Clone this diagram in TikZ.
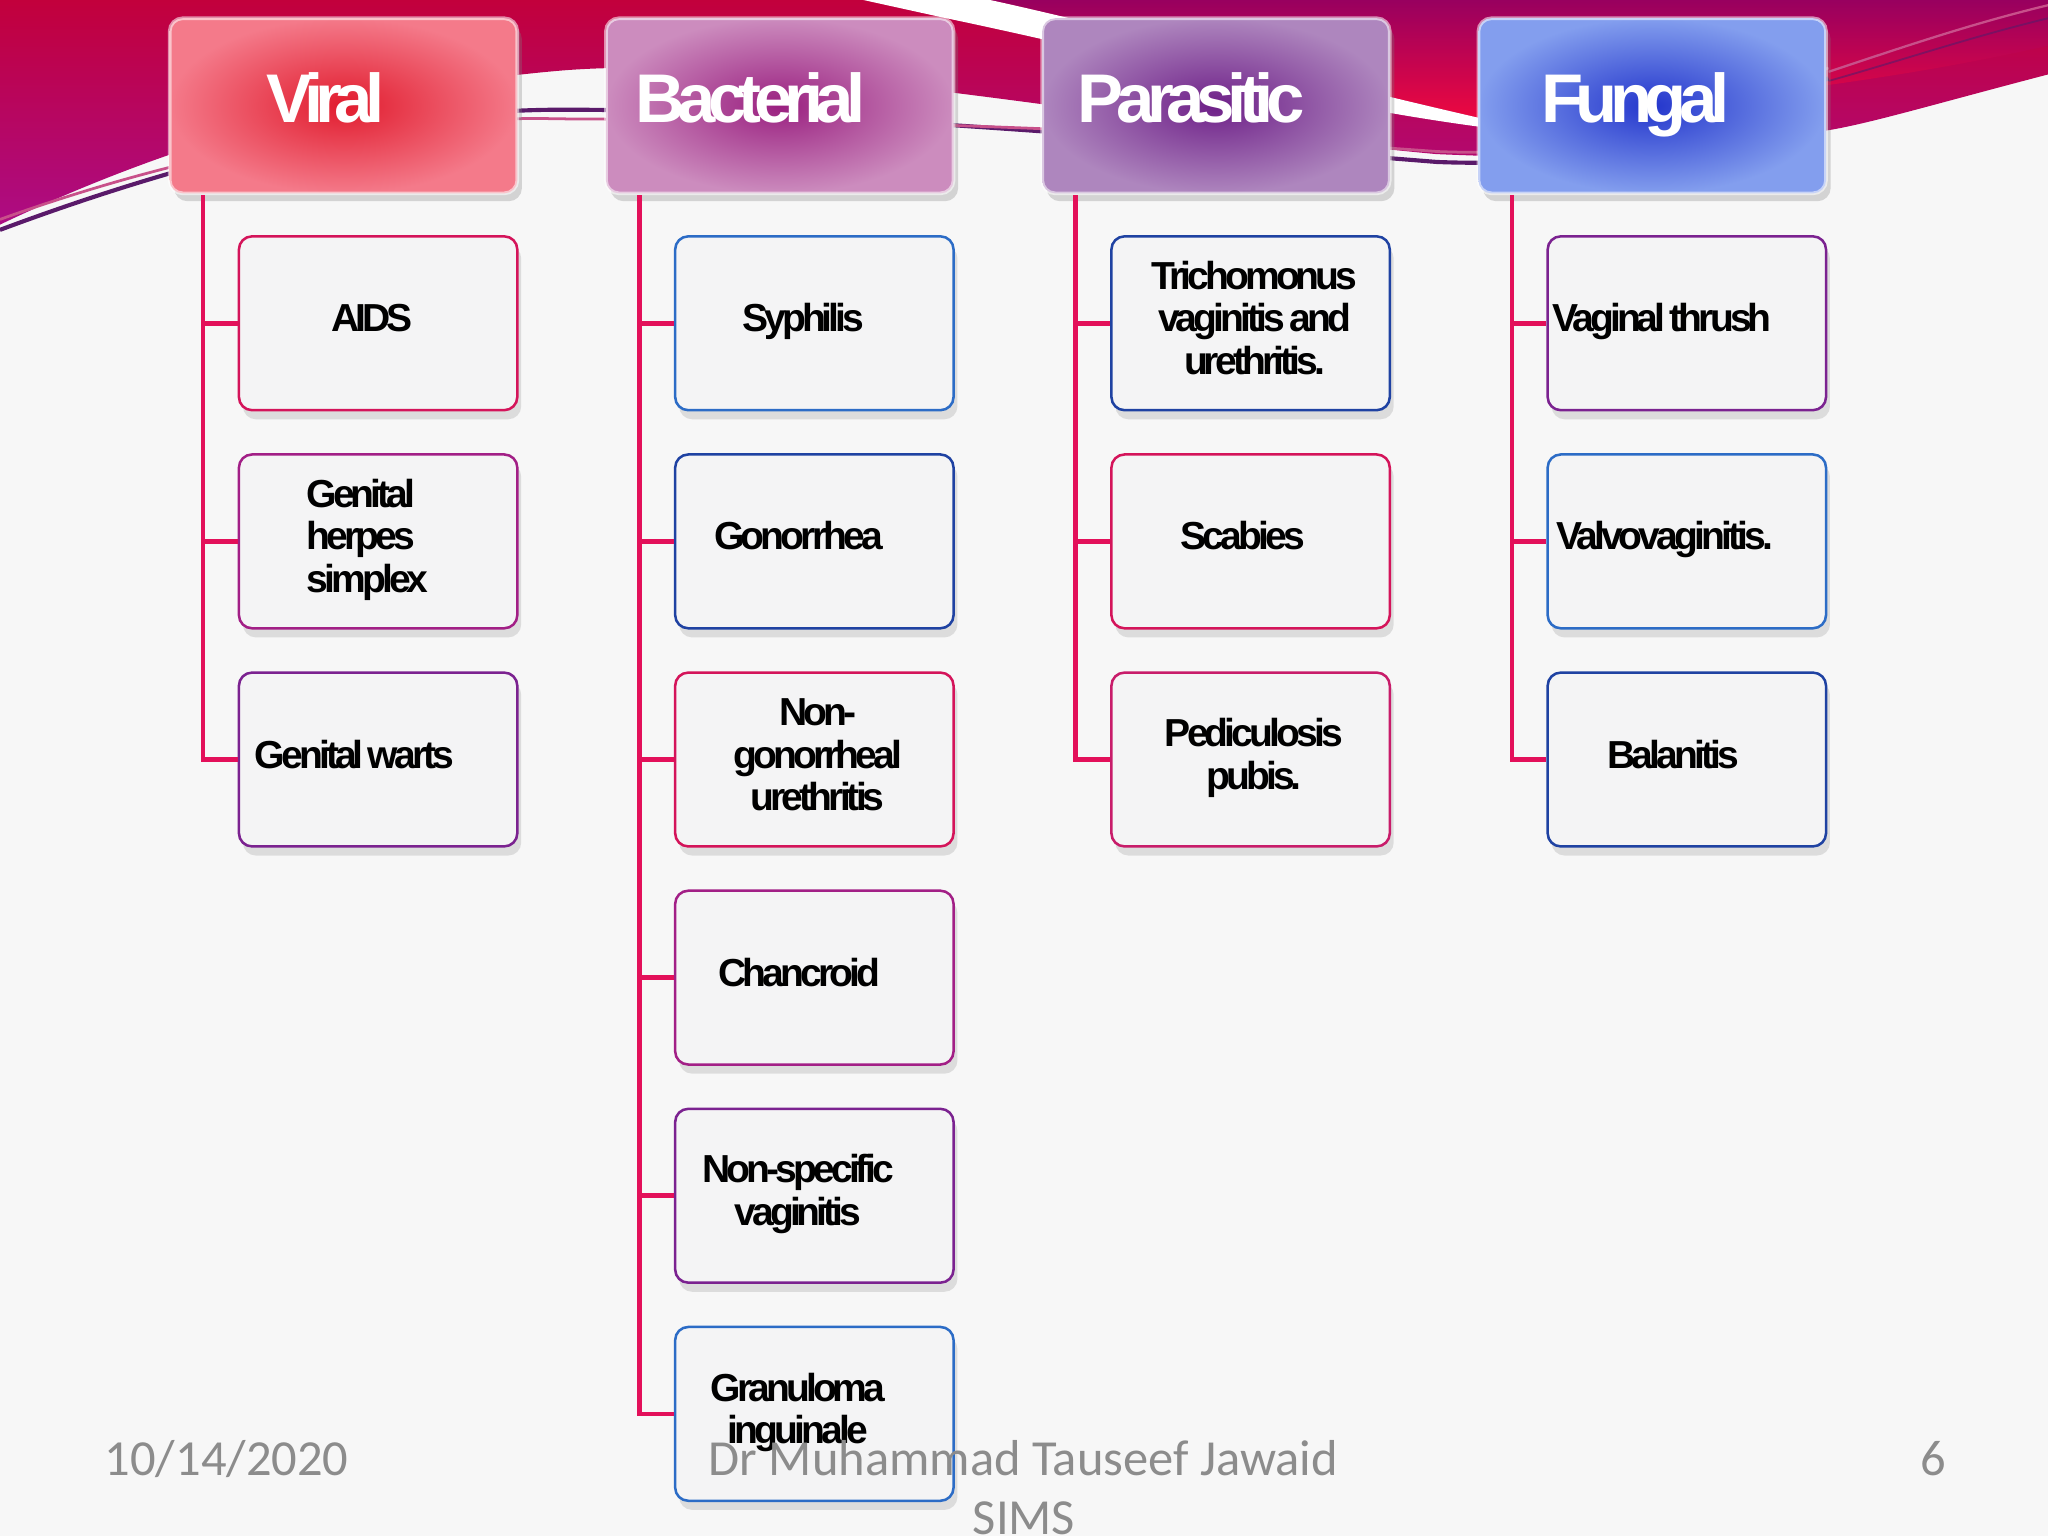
\documentclass[tikz,border=0pt]{standalone}
\usepackage{fontspec}
\setmainfont{Liberation Sans}
\newfontfamily\tightfont{Liberation Sans}[LetterSpace=-10,WordSpace=0.6]
\newfontfamily\hdrfont{Liberation Sans}[LetterSpace=-11]
\newfontfamily\footfont{Carlito}
\usetikzlibrary{shadows,calc}

\definecolor{bgcol}{HTML}{F7F7F7}
\definecolor{boxfill}{HTML}{F4F4F5}
\definecolor{conncol}{HTML}{E3105A}
\definecolor{footgray}{HTML}{8C8C8C}
\definecolor{bandtop}{HTML}{C2003C}
\definecolor{bandmid}{HTML}{BC0052}
\definecolor{bandbot}{HTML}{AC0C84}
\definecolor{rtop}{HTML}{98005F}
\definecolor{rbot}{HTML}{EE0840}
\definecolor{lineA}{HTML}{5A1A6A}
\definecolor{lineB}{HTML}{C8508A}
\definecolor{viralin}{HTML}{E11C2E}
\definecolor{viralout}{HTML}{F47A8A}
\definecolor{bactin}{HTML}{9A2080}
\definecolor{bactout}{HTML}{CC8CBE}
\definecolor{parain}{HTML}{6E2088}
\definecolor{paraout}{HTML}{AE86BE}
\definecolor{fungin}{HTML}{2436CC}
\definecolor{fungout}{HTML}{839EEE}
\definecolor{cCrimson}{HTML}{D4145A}
\definecolor{cMagenta}{HTML}{A21F86}
\definecolor{cPurple}{HTML}{7B2290}
\definecolor{cBlue}{HTML}{2C6CC6}
\definecolor{cNavy}{HTML}{1F42A2}
\definecolor{cPink}{HTML}{C81C6A}

\newcommand\hx[2]{\hspace*{#1}\raisebox{-1.3mm}[0pt][0pt]{#2}}
\newcommand\ct[2]{\hspace*{#1}\begin{tabular}{@{}c@{}}#2\end{tabular}}
\newcommand\ctl[2]{\hspace*{#1}\begin{tabular}{@{}l@{}}#2\end{tabular}}

\tikzset{
  hdr/.style={rounded corners=1mm, minimum width=2.66cm, minimum height=1.34cm,
    inner sep=0pt, text=white, font=\hdrfont\bfseries\fontsize{15pt}{16pt}\selectfont,
    drop shadow={opacity=0.3, shadow xshift=0.35mm, shadow yshift=-0.6mm},
    draw=white, draw opacity=0.55, line width=0.8pt},
  cbox/.style={rounded corners=1mm, minimum width=2.13cm, minimum height=1.33cm,
    inner sep=0pt, fill=boxfill, draw=#1, line width=0.55pt,
    font=\tightfont\bfseries\fontsize{8.5pt}{9.3pt}\selectfont,
    drop shadow={opacity=0.22, shadow xshift=0.3mm, shadow yshift=-0.7mm}},
  conn/.style={draw=conncol, line width=1pt},
  foot/.style={text=footgray, font=\footfont\fontsize{11pt}{12.8pt}\selectfont, inner sep=0pt}
}

\begin{document}
\begin{tikzpicture}[x=0.01cm, y=-0.01cm]
\useasboundingbox (0,0) rectangle (1568,1176);
\fill[bgcol] (0,0) rectangle (1568,1176);

% ---- decorative banner ----
\shade[top color=bandtop, middle color=bandmid, bottom color=bandbot]
  (0,0) -- (1568,0) -- (1568,57)
  .. controls (1480,80) and (1430,95) .. (1398,100)
  .. controls (1250,125) and (1150,120) .. (1100,118)
  .. controls (900,100) and (600,40) .. (430,54)
  .. controls (300,65) and (150,100) .. (0,172) -- cycle;
\shade[top color=rtop, bottom color=rbot]
  (758,0) -- (1568,0) -- (1568,35)
  .. controls (1450,62) and (1300,80) .. (1140,92)
  .. controls (1000,60) and (850,20) .. (758,0) -- cycle;
\fill[white]
  (661,0) -- (758,0)
  .. controls (850,20) and (1000,60) .. (1140,92)
  -- (1140,98)
  .. controls (1000,80) and (850,40) .. (720,13) -- cycle;
\draw[lineA, line width=0.9pt]
  (0,176) .. controls (150,120) and (300,84) .. (430,84)
  .. controls (600,84) and (800,100) .. (1100,124)
  .. controls (1250,130) and (1320,90) .. (1400,60);
\draw[lineB, line width=0.6pt]
  (0,168) .. controls (150,114) and (300,88) .. (430,91)
  .. controls (600,92) and (800,94) .. (1100,116)
  .. controls (1250,122) and (1320,85) .. (1400,52);
\draw[lineB, line width=0.5pt] (1400,55) .. controls (1460,35) and (1510,18) .. (1568,4);
\draw[lineA, line width=0.4pt, opacity=0.6] (1400,62) .. controls (1460,45) and (1510,28) .. (1568,14);

% ---- header boxes ----
\node[hdr, inner color=viralin, outer color=viralout] (viral) at (263,81) {\hx{-2.7mm}{Viral}};
\node[hdr, inner color=bactin, outer color=bactout] (bact) at (597,81) {\hx{-4.5mm}{Bacterial}};
\node[hdr, inner color=parain, outer color=paraout] (para) at (931,81) {\hx{-3.8mm}{Parasitic}};
\node[hdr, inner color=fungin, outer color=fungout] (fung) at (1265,81) {\hx{-2.6mm}{Fungal}};

% ---- child boxes ----
\node[cbox=cCrimson] (aids) at (289.5,247.5) {\ct{-0.9mm}{AIDS}};
\node[cbox=cMagenta] (herpes) at (289.5,414.5) {\ctl{-1.6mm}{Genital\\herpes\\simplex}};
\node[cbox=cPurple] (warts) at (289.5,581.5) {\ct{-3.6mm}{Genital warts}};

\node[cbox=cBlue] (syph) at (623.5,247.5) {\ct{-1.7mm}{Syphilis}};
\node[cbox=cNavy] (gono) at (623.5,414.5) {\ct{-2.4mm}{Gonorrhea}};
\node[cbox=cCrimson] (ngu) at (623.5,581.5) {\ct{0.5mm}{Non-\\gonorrheal\\urethritis}};
\node[cbox=cMagenta] (chanc) at (623.5,748.5) {\ct{-2.3mm}{Chancroid}};
\node[cbox=cPurple] (nsv) at (623.5,915.5) {\ct{-2.5mm}{Non-specific\\vaginitis}};
\node[cbox=cBlue] (gran) at (623.5,1082.5) {\ct{-2.5mm}{Granuloma\\inguinale}};

\node[cbox=cNavy] (trich) at (957.5,247.5) {\ct{0.6mm}{Trichomonus\\vaginitis and\\urethritis.}};
\node[cbox=cCrimson] (scab) at (957.5,414.5) {\ct{-1.2mm}{Scabies}};
\node[cbox=cPink] (ped) at (957.5,581.5) {\ct{0.5mm}{Pediculosis\\pubis.}};

\node[cbox=cPurple] (vt) at (1291.5,247.5) {\ct{-3.8mm}{Vaginal thrush}};
\node[cbox=cBlue] (vv) at (1291.5,414.5) {\ct{-3.4mm}{Valvovaginitis.}};
\node[cbox=cNavy] (bal) at (1291.5,581.5) {\ct{-2.1mm}{Balanitis}};

% ---- connectors ----
\foreach \h/\c in {viral/aids, viral/herpes, viral/warts,
                   bact/syph, bact/gono, bact/ngu, bact/chanc, bact/nsv, bact/gran,
                   para/trich, para/scab, para/ped,
                   fung/vt, fung/vv, fung/bal}
  \draw[conn] ($(\h.south west)+(27,0)$) |- (\c.west);

% ---- footer ----
\node[foot, anchor=base] (date) at (173.5,1130) {10/14/2020};
\node[foot, anchor=base] (author) at (783.5,1130) {Dr Muhammad Tauseef Jawaid};
\node[foot, anchor=base] (sims) at (784,1175) {SIMS};
\node[foot, anchor=base] (page) at (1480,1130) {6};
\end{tikzpicture}
\end{document}
